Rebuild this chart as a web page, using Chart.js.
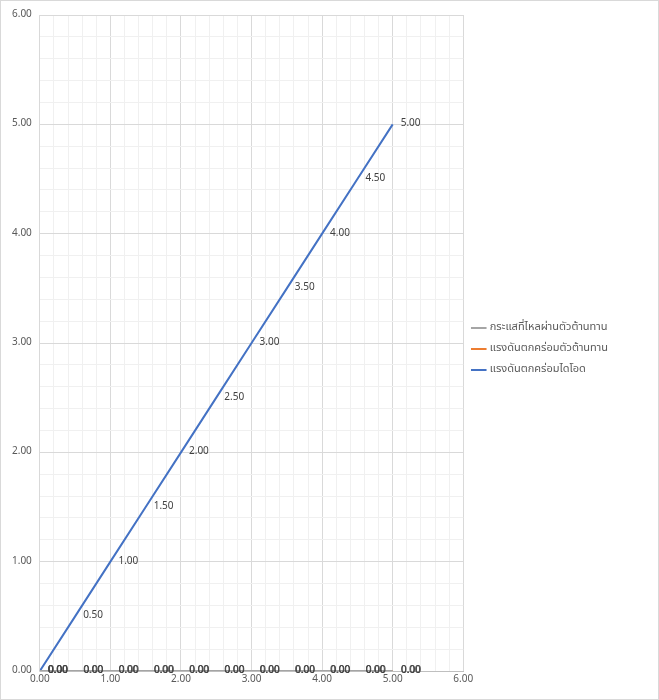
<!DOCTYPE html>
<html><head><meta charset="utf-8">
<script src="https://cdn.jsdelivr.net/npm/chart.js@4"></script>
<style>html,body{margin:0;background:#fff}#w{width:657px;height:698px;border:1px solid #d9d9d9}</style>
</head><body><div id="w"><canvas id="c"></canvas></div>
<script>
const xValues=[0,0.5,1,1.5,2,2.5,3,3.5,4,4.5,5];
const diodeVoltage=[0,0.5,1,1.5,2,2.5,3,3.5,4,4.5,5];
const resistorVoltage=[0,0,0,0,0,0,0,0,0,0,0];
const resistorCurrent=[0,0,0,0,0,0,0,0,0,0,0];
const seriesNames=['แรงดันตกคร่อมไดโอด','แรงดันตกคร่อมตัวต้านทาน','กระแสที่ไหลผ่านตัวต้านทาน'];
const colors=['#4472c4','#ed7d31','#a5a5a5'];
const FONT="'Noto Sans Thai','Noto Sans','DejaVu Sans',sans-serif";
const pts=a=>a.map((y,i)=>({x:xValues[i],y}));
const labelPlugin={id:'lbl',afterDatasetsDraw(ch){const c=ch.ctx;c.save();c.font='10px '+FONT;c.fillStyle='#404040';c.textBaseline='middle';
ch.data.datasets.forEach((d,di)=>{const m=ch.getDatasetMeta(di);m.data.forEach((p,i)=>{c.fillText(d.data[i].y.toFixed(2),p.x+8+(di===2?0.6:0),p.y+(di===2?0.4:0));});});c.restore();}};
const legendWiden={id:'lw',afterInit(ch){const lg=ch.legend;if(!lg)return;const f=lg.fit;lg.fit=function(){f.call(this);this.width+=12;};}};
new Chart(document.getElementById('c'),{type:'scatter',
data:{datasets:[diodeVoltage,resistorVoltage,resistorCurrent].map((a,k)=>({label:seriesNames[k],data:pts(a),showLine:true,borderColor:colors[k],backgroundColor:colors[k],borderWidth:2,pointRadius:0,order:-k+2}))},
options:{responsive:true,maintainAspectRatio:false,animation:false,
layout:{padding:{top:8,right:28,bottom:10,left:3}},
plugins:{tooltip:{enabled:false},legend:{position:'right',labels:{usePointStyle:true,pointStyle:'line',boxWidth:28,font:{size:11,family:FONT},color:'#595959',padding:10}}},
scales:{
x:{min:0,max:6,ticks:{stepSize:0.2,autoSkip:false,maxRotation:0,font:{size:10,family:FONT},color:'#595959',callback:v=>Math.abs(v-Math.round(v))<1e-6?Math.round(v).toFixed(2):''},
grid:{color:c=>Math.abs(c.tick.value-Math.round(c.tick.value))<1e-6?'#d9d9d9':'#f0f0f0',drawTicks:false},border:{color:'#bfbfbf'}},
y:{min:0,max:6,ticks:{stepSize:0.2,autoSkip:false,font:{size:10,family:FONT},color:'#595959',padding:8,callback:v=>Math.abs(v-Math.round(v))<1e-6?Math.round(v).toFixed(2):''},
grid:{color:c=>Math.abs(c.tick.value-Math.round(c.tick.value))<1e-6?'#d9d9d9':'#f0f0f0',drawTicks:false},border:{color:'#d9d9d9'}}}},
plugins:[labelPlugin,legendWiden]});
</script></body></html>
